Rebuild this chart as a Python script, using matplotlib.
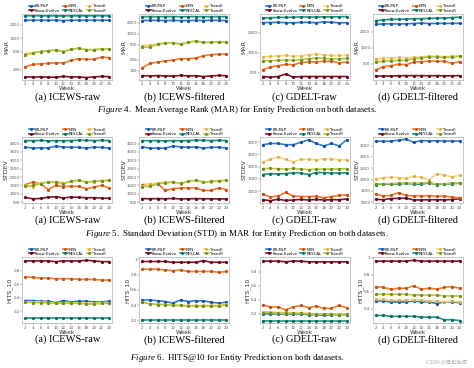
import matplotlib
matplotlib.use('Agg')
import matplotlib.pyplot as plt
from matplotlib.ticker import FixedLocator, NullLocator, FixedFormatter

plt.rcParams['font.family'] = ['DejaVu Sans']
plt.rcParams['mathtext.fontset'] = 'custom'
plt.rcParams['mathtext.rm'] = 'Liberation Serif'
plt.rcParams['mathtext.it'] = 'Liberation Serif:italic'

weeks = [2, 4, 6, 8, 10, 12, 14, 16, 18, 20, 22, 24]
methods = ['ER-MLP', 'Know-Evolve', 'NTN', 'RESCAL', 'TransE', 'TransR']
colors = {'ER-MLP': '#2a7fd4', 'Know-Evolve': '#8c1028', 'NTN': '#f07d2a',
          'RESCAL': '#1a9a86', 'TransE': '#f6d67e', 'TransR': '#b7c83c'}
marker_colors = {'ER-MLP': '#1c4f9a', 'Know-Evolve': '#5a0a1a', 'NTN': '#c0501a',
                 'RESCAL': '#0f6a5c', 'TransE': '#d8b050', 'TransR': '#6f8a20'}

# ---- Figure 4: MAR ----
mar_icews_raw = {
    'ER-MLP': [2520, 2540, 2530, 2520, 2540, 2490, 2520, 2530, 2520, 2540, 2530, 2520],
    'Know-Evolve': [138, 136, 138, 136, 135, 141, 137, 138, 133, 137, 141, 139],
    'NTN': [230, 260, 270, 275, 285, 280, 320, 350, 340, 340, 380, 370],
    'RESCAL': [3170, 3180, 3160, 3170, 3180, 3150, 3170, 3180, 3160, 3170, 3180, 3170],
    'TransE': [455, 480, 510, 530, 550, 510, 570, 610, 560, 560, 580, 580],
    'TransR': [420, 470, 500, 525, 545, 500, 565, 600, 555, 555, 575, 575],
}
mar_icews_filtered = {
    'ER-MLP': [2280, 2300, 2290, 2280, 2300, 2260, 2280, 2290, 2280, 2300, 2290, 2280],
    'Know-Evolve': [74, 73, 74, 73, 72, 75, 73, 74, 70, 73, 75, 74],
    'NTN': [122, 158, 172, 185, 195, 212, 212, 222, 255, 275, 280, 285],
    'RESCAL': [2900, 2910, 2890, 2900, 2910, 2880, 2900, 2910, 2890, 2900, 2910, 2900],
    'TransE': [480, 490, 540, 560, 580, 530, 600, 640, 590, 590, 610, 610],
    'TransR': [430, 440, 520, 555, 575, 520, 595, 635, 585, 585, 605, 605],
}
mar_gdelt_raw = {
    'ER-MLP': [2830, 2840, 2850, 2830, 2800, 2860, 2850, 2820, 2900, 2870, 2800, 2830],
    'Know-Evolve': [440, 430, 440, 480, 430, 440, 440, 440, 440, 440, 440, 440],
    'NTN': [555, 610, 640, 670, 660, 710, 730, 730, 745, 745, 705, 725],
    'RESCAL': [3330, 3350, 3380, 3400, 3400, 3450, 3420, 3430, 3450, 3440, 3470, 3480],
    'TransE': [870, 880, 900, 910, 890, 900, 920, 960, 930, 910, 910, 920],
    'TransR': [760, 760, 770, 780, 770, 790, 810, 830, 830, 800, 810, 820],
}
mar_gdelt_filtered = {
    'ER-MLP': [2750, 2800, 2820, 2800, 2820, 2850, 2900, 2850, 2860, 2870, 2860, 2880],
    'Know-Evolve': [296, 294, 296, 298, 300, 300, 300, 298, 300, 298, 298, 300],
    'NTN': [385, 440, 460, 490, 480, 540, 550, 560, 560, 560, 510, 550],
    'RESCAL': [3220, 3350, 3400, 3420, 3450, 3500, 3520, 3550, 3600, 3620, 3680, 3750],
    'TransE': [620, 630, 640, 660, 650, 660, 680, 700, 690, 680, 690, 700],
    'TransR': [545, 560, 570, 580, 580, 620, 640, 680, 670, 660, 670, 690],
}

# ---- Figure 5: STDEV ----
std_icews_raw = {
    'ER-MLP': [3800, 3720, 3750, 3740, 3850, 3790, 3780, 3780, 3730, 3790, 3770, 3730],
    'Know-Evolve': [780, 700, 720, 800, 820, 750, 800, 790, 760, 770, 740, 730],
    'NTN': [1550, 1700, 1600, 1250, 1500, 1430, 1450, 1450, 1300, 1400, 1500, 1350],
    'RESCAL': [4180, 4170, 4190, 4160, 4180, 4170, 4180, 4200, 4190, 4180, 4190, 4180],
    'TransE': [1500, 1400, 1650, 1700, 1720, 1650, 1750, 1820, 1700, 1720, 1770, 1820],
    'TransR': [1450, 1500, 1600, 1700, 1700, 1600, 1750, 1800, 1700, 1750, 1780, 1800],
}
std_icews_filtered = {
    'ER-MLP': [3800, 3720, 3740, 3720, 3850, 3800, 3780, 3800, 3730, 3780, 3780, 3740],
    'Know-Evolve': [710, 700, 710, 700, 720, 690, 700, 710, 700, 700, 690, 700],
    'NTN': [1550, 1550, 1600, 1200, 1300, 1350, 1350, 1350, 1200, 1200, 1350, 1250],
    'RESCAL': [4180, 4170, 4180, 4160, 4180, 4170, 4180, 4200, 4190, 4180, 4190, 4180],
    'TransE': [1450, 1600, 1650, 1700, 1700, 1600, 1750, 1800, 1700, 1720, 1780, 1820],
    'TransR': [1430, 1450, 1600, 1650, 1700, 1620, 1750, 1800, 1700, 1740, 1770, 1800],
}
std_gdelt_raw = {
    'ER-MLP': [2900, 2950, 2950, 2900, 2900, 3000, 3100, 2950, 2850, 2950, 2850, 3100],
    'Know-Evolve': [650, 610, 670, 620, 640, 660, 640, 660, 640, 650, 650, 680],
    'NTN': [880, 760, 800, 950, 800, 780, 780, 790, 730, 780, 830, 850],
    'RESCAL': [1680, 1720, 1700, 1720, 1750, 1740, 1680, 1760, 1760, 1740, 1740, 1750],
    'TransE': [2200, 2300, 2400, 2300, 2200, 2300, 2300, 2280, 2320, 2320, 2280, 2280],
    'TransR': [1920, 1930, 1920, 1900, 1930, 1900, 1880, 1900, 1900, 1900, 1910, 1920],
}
std_gdelt_filtered = {
    'ER-MLP': [3700, 3680, 3700, 3730, 3780, 3640, 3720, 3700, 3710, 3700, 3700, 3690],
    'Know-Evolve': [1130, 1110, 1160, 1170, 1180, 1100, 1100, 1110, 1110, 1100, 1120, 1150],
    'NTN': [1360, 1280, 1300, 1420, 1300, 1280, 1280, 1290, 1260, 1280, 1220, 1200],
    'RESCAL': [1780, 1800, 1800, 1800, 1830, 1800, 1800, 1850, 1780, 1800, 1820, 1840],
    'TransE': [2030, 2080, 2100, 2080, 2060, 2150, 2100, 2000, 2250, 2200, 2120, 2180],
    'TransR': [1800, 1820, 1820, 1830, 1850, 1830, 1840, 1870, 1800, 1810, 1840, 1850],
}

# ---- Figure 6: HITS@10 ----
hits_icews_raw = {
    'ER-MLP': [0.36, 0.36, 0.35, 0.35, 0.33, 0.36, 0.34, 0.35, 0.35, 0.34, 0.34, 0.35],
    'Know-Evolve': [0.94, 0.94, 0.94, 0.94, 0.93, 0.94, 0.94, 0.94, 0.95, 0.94, 0.93, 0.93],
    'NTN': [0.71, 0.70, 0.69, 0.69, 0.68, 0.68, 0.68, 0.67, 0.67, 0.67, 0.66, 0.66],
    'RESCAL': [0.11, 0.11, 0.11, 0.11, 0.11, 0.11, 0.11, 0.11, 0.11, 0.11, 0.11, 0.11],
    'TransE': [0.34, 0.34, 0.34, 0.33, 0.32, 0.33, 0.33, 0.32, 0.32, 0.32, 0.33, 0.33],
    'TransR': [0.34, 0.33, 0.33, 0.33, 0.32, 0.32, 0.32, 0.32, 0.31, 0.31, 0.32, 0.32],
}
hits_icews_filtered = {
    'ER-MLP': [0.47, 0.47, 0.46, 0.45, 0.43, 0.47, 0.45, 0.46, 0.46, 0.44, 0.43, 0.44],
    'Know-Evolve': [0.97, 0.97, 0.97, 0.97, 0.96, 0.96, 0.96, 0.96, 0.98, 0.96, 0.96, 0.96],
    'NTN': [0.87, 0.87, 0.87, 0.86, 0.85, 0.86, 0.84, 0.84, 0.84, 0.84, 0.83, 0.84],
    'RESCAL': [0.21, 0.21, 0.21, 0.21, 0.21, 0.21, 0.21, 0.21, 0.21, 0.21, 0.21, 0.21],
    'TransE': [0.45, 0.42, 0.42, 0.41, 0.40, 0.40, 0.40, 0.40, 0.40, 0.40, 0.40, 0.42],
    'TransR': [0.44, 0.42, 0.41, 0.41, 0.40, 0.40, 0.39, 0.39, 0.39, 0.39, 0.39, 0.41],
}
hits_gdelt_raw = {
    'ER-MLP': [0.20, 0.20, 0.20, 0.20, 0.20, 0.20, 0.19, 0.19, 0.18, 0.19, 0.19, 0.19],
    'Know-Evolve': [0.95, 0.95, 0.95, 0.94, 0.95, 0.95, 0.94, 0.94, 0.94, 0.94, 0.94, 0.94],
    'NTN': [0.33, 0.30, 0.30, 0.26, 0.30, 0.32, 0.29, 0.31, 0.28, 0.28, 0.32, 0.29],
    'RESCAL': [0.10, 0.10, 0.10, 0.10, 0.10, 0.10, 0.10, 0.10, 0.10, 0.10, 0.10, 0.10],
    'TransE': [0.23, 0.23, 0.22, 0.22, 0.21, 0.21, 0.21, 0.20, 0.20, 0.20, 0.20, 0.20],
    'TransR': [0.22, 0.22, 0.21, 0.21, 0.21, 0.21, 0.20, 0.20, 0.20, 0.20, 0.19, 0.20],
}
hits_gdelt_filtered = {
    'ER-MLP': [0.49, 0.49, 0.48, 0.48, 0.48, 0.49, 0.48, 0.48, 0.46, 0.48, 0.48, 0.47],
    'Know-Evolve': [0.96, 0.96, 0.96, 0.96, 0.96, 0.97, 0.96, 0.96, 0.96, 0.96, 0.96, 0.96],
    'NTN': [0.66, 0.65, 0.63, 0.64, 0.64, 0.67, 0.63, 0.64, 0.63, 0.65, 0.66, 0.64],
    'RESCAL': [0.32, 0.32, 0.31, 0.31, 0.31, 0.31, 0.30, 0.30, 0.30, 0.27, 0.27, 0.26],
    'TransE': [0.51, 0.51, 0.50, 0.50, 0.50, 0.50, 0.50, 0.49, 0.49, 0.48, 0.49, 0.48],
    'TransR': [0.57, 0.57, 0.57, 0.57, 0.57, 0.56, 0.56, 0.56, 0.56, 0.55, 0.55, 0.55],
}

panel_titles = ['(a) ICEWS-raw', '(b) ICEWS-filtered', '(c) GDELT-raw', '(d) GDELT-filtered']
fig_captions = [
    r'$\it{Figure\ 4.}$ Mean Average Rank (MAR) for Entity Prediction on both datasets.',
    r'$\it{Figure\ 5.}$ Standard Deviation (STD) in MAR for Entity Prediction on both datasets.',
    r'$\it{Figure\ 6.}$ HITS@10 for Entity Prediction on both datasets.',
]

rows = [
    ('MAR', 'log', [mar_icews_raw, mar_icews_filtered, mar_gdelt_raw, mar_gdelt_filtered],
     [(118, 3550), (57, 3500), (392, 3860), (250, 4370)],
     [[200, 500, 1000, 2000], [100, 200, 500, 1000, 2000], [500, 1000, 2000], [500, 1000, 2000]]),
    ('STDEV', 'linear', [std_icews_raw, std_icews_filtered, std_gdelt_raw, std_gdelt_filtered],
     [(440, 4400), (440, 4400), (510, 3220), (960, 3880)],
     [list(range(500, 4001, 500)), list(range(500, 4001, 500)),
      list(range(1000, 3001, 500)), list(range(1000, 3501, 500))]),
    ('HITS_10', 'linear', [hits_icews_raw, hits_icews_filtered, hits_gdelt_raw, hits_gdelt_filtered],
     [(0.03, 1.0), (0.17, 1.03), (0.07, 1.01), (0.23, 1.01)],
     [[0.2, 0.4, 0.6, 0.8], [0.2, 0.4, 0.6, 0.8, 1.0], [0.2, 0.4, 0.6, 0.8], [0.4, 0.6, 0.8, 1.0]]),
]

fig = plt.figure(figsize=(4.74, 3.68), dpi=100)
lefts = [0.047, 0.294, 0.548, 0.786]
bottoms = [0.783, 0.448, 0.122]
caption_y = [0.735, 0.403, 0.077]
figcap_y = [0.70, 0.365, 0.028]

for r, (ylab, scale, datasets, lims, ticks) in enumerate(rows):
    for c in range(4):
        ax = fig.add_axes([lefts[c], bottoms[r], 0.19, 0.18])
        data = datasets[c]
        for m in methods:
            ax.plot(weeks, data[m], '-o', color=colors[m], lw=1.2, ms=1.3,
                    mfc=marker_colors[m], mec=marker_colors[m], label=m)
        ax.set_yscale(scale)
        ax.set_ylim(*lims[c])
        ax.set_xlim(1.2, 24.8)
        ax.yaxis.set_major_locator(FixedLocator(ticks[c]))
        ax.yaxis.set_major_formatter(FixedFormatter(['%g' % t for t in ticks[c]]))
        ax.yaxis.set_minor_locator(NullLocator())
        ax.set_xticks(weeks)
        ax.tick_params(labelsize=2.8, length=1.2, width=0.3, pad=0.6, colors='#555555')
        for s in ax.spines.values():
            s.set_color('#b0b0b0')
            s.set_linewidth(0.5)
        ax.set_xlabel('Week', fontsize=4.2, labelpad=0.0, color='#333333')
        ax.set_ylabel(ylab, fontsize=4.5, labelpad=0.5, color='#333333')
        ax.legend(loc='lower center', bbox_to_anchor=(0.5, 0.98), ncol=3, fontsize=2.8,
                  frameon=False, handlelength=1.2, handletextpad=0.3, columnspacing=0.8,
                  labelspacing=0.05, borderpad=0.1, markerscale=0.8)
        fig.text(lefts[c] + 0.095, caption_y[r], panel_titles[c], ha='center', va='center',
                 fontsize=7.5, family='Liberation Serif')
    fig.text(0.5, figcap_y[r], fig_captions[r], ha='center', va='center', fontsize=6.5,
             family='Liberation Serif')

fig.text(0.985, 0.008, 'CSDN @是包包啊', ha='right', va='bottom', fontsize=3.8,
         color='#b0b0b0', family=['Noto Sans CJK SC', 'DejaVu Sans'])

fig.savefig('out.png', dpi=100)
